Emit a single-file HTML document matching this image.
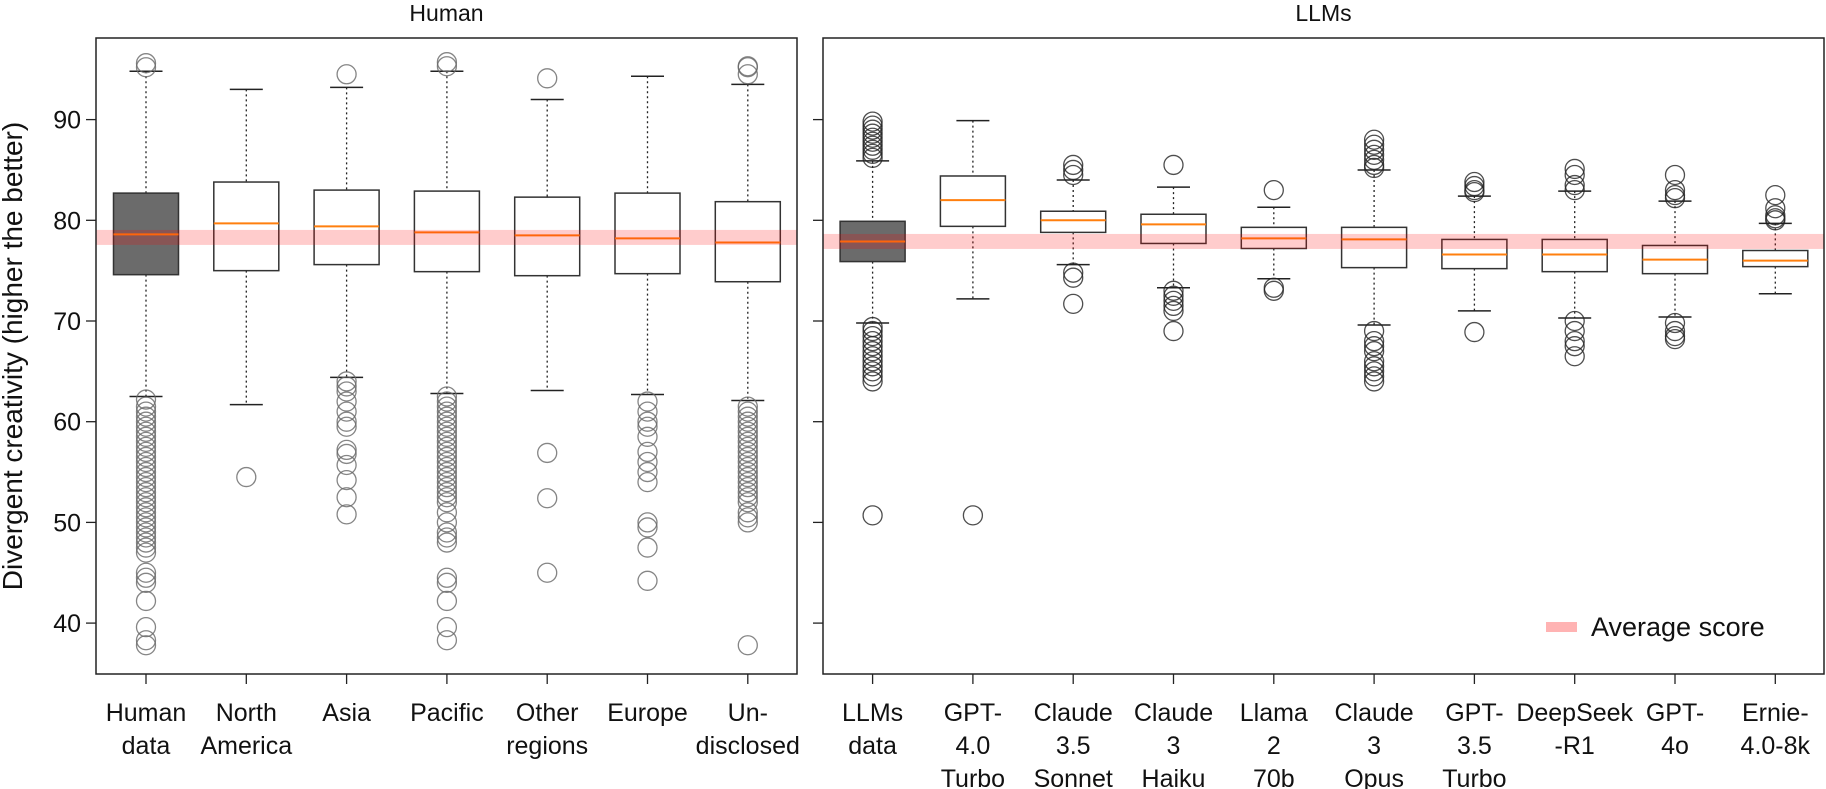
<!DOCTYPE html>
<html><head><meta charset="utf-8">
<style>
html,body{margin:0;padding:0;background:#fff;}
svg{display:block;font-family:"Liberation Sans",sans-serif;}
</style></head>
<body>
<svg id="chart" width="1826" height="789" viewBox="0 0 1826 789"></svg>
<script>
// ---- data ----
const humanCats = [["Human","data"],["North","America"],["Asia"],["Pacific"],["Other","regions"],["Europe"],["Un-","disclosed"]];
const humanLow  = [62.5,61.7,64.4,62.8,63.1,62.7,62.1];
const humanQ1   = [74.6,75.0,75.6,74.9,74.5,74.7,73.9];
const humanMed  = [78.6,79.7,79.4,78.8,78.5,78.2,77.8];
const humanQ3   = [82.7,83.8,83.0,82.9,82.3,82.7,81.85];
const humanHigh = [94.8,93.0,93.2,94.8,92.0,94.3,93.5];
const humanOut = [
 [95.2,95.6,62.2,61.5,61,60.5,60,59.5,59,58.5,58,57.5,57,56.5,56,55.5,55,54.5,54,53.5,53,52.5,52,51.5,51,50.5,50,49.5,49,48.5,48,47.5,47,45,44.5,44,42.2,39.6,38.3,37.8],
 [54.5],
 [94.5,64,63.5,63,62,61,60,59.5,57.2,56.8,55.7,54.2,52.5,50.8],
 [95.3,95.7,62.5,62,61.5,61,60.5,60,59.5,59,58.5,58,57.5,57,56.5,56,55.5,55,54.5,54,53.5,53,52.5,52,51,50,49,48.5,48,44.5,44,42.2,39.6,38.3],
 [94.1,56.9,52.4,45],
 [62,61,60,59.5,58.5,57,56,55,54,50,49.5,47.5,44.2],
 [94.5,95.2,95.3,61.5,61,60.5,60,59.5,59,58.5,58,57.5,57,56.5,56,55.5,55,54.5,54,53.5,53,52.5,52,51,50.5,50,37.8]
];
const llmCats = [["LLMs","data"],["GPT-","4.0","Turbo"],["Claude","3.5","Sonnet"],["Claude","3","Haiku"],["Llama","2","70b"],["Claude","3","Opus"],["GPT-","3.5","Turbo"],["DeepSeek","-R1"],["GPT-","4o"],["Ernie-","4.0-8k"]];
const llmLow  = [69.8,72.2,75.6,73.3,74.2,69.6,71.0,70.3,70.4,72.7];
const llmQ1   = [75.9,79.4,78.8,77.7,77.2,75.3,75.2,74.9,74.7,75.4];
const llmMed  = [77.9,82.0,80.0,79.6,78.2,78.1,76.6,76.6,76.1,76.0];
const llmQ3   = [79.9,84.4,80.9,80.6,79.3,79.3,78.1,78.1,77.5,77.0];
const llmHigh = [85.9,89.9,84.0,83.3,81.3,85.0,82.4,82.9,81.9,79.7];
const llmOut = [
 [86.2,86.6,87,87.4,87.8,88.2,88.6,89,89.4,89.8,69.4,69,68.5,68,67.5,67,66.5,66,65.5,65,64.5,64,50.7],
 [50.7],
 [85.5,85,84.5,74.8,74.3,71.7],
 [85.5,73,72.5,72,71.5,71,69],
 [83,73.3,73],
 [88,87.5,87,86.5,86,85.5,85.2,69,68,67.5,67,66,65.5,65,64.5,64],
 [83.8,83.4,83,82.8,68.9],
 [85.1,84.5,83.5,83,70,69,68,67.5,66.5],
 [84.5,83,82.5,82.2,69.8,69,68.5,68.2],
 [82.5,81.2,80.5,80.2,80]
];
const yTicks = [40,50,60,70,80,90];
const humanAvg = 78.3;
const llmAvg = 77.9;

// ---- layout ----
const NS="http://www.w3.org/2000/svg";
const svgEl=document.getElementById('chart');
function mk(tag,attrs,parent){const e=document.createElementNS(NS,tag);for(const k in attrs)e.setAttribute(k,attrs[k]);(parent||svgEl).appendChild(e);return e;}
const yScale=v=>220.3-(v-80)*10.07;
const panels=[
 {name:'human',title:'Human',x0:96,x1:797,first:146,cats:humanCats,low:humanLow,q1:humanQ1,med:humanMed,q3:humanQ3,high:humanHigh,out:humanOut,avg:humanAvg,labels:true,outCol:'#666'},
 {name:'llm',title:'LLMs',x0:823,x1:1824,first:872.6,cats:llmCats,low:llmLow,q1:llmQ1,med:llmMed,q3:llmQ3,high:llmHigh,out:llmOut,avg:llmAvg,labels:false,outCol:'#222'}
];
const plotTop=38,plotBottom=674,step=100.3,bw=65,cap=33;
panels.forEach(p=>{
 const g=mk('g',{});
 
 
 const xs=i=>p.first+i*step;
 const t=mk('text',{x:(p.x0+p.x1)/2,y:21,'text-anchor':'middle','font-size':23,fill:'#111'},g);
 t.textContent=p.title;
 
 
 yTicks.forEach(v=>{
  const tk=mk('line',{x1:p.x0-10,x2:p.x0,y1:yScale(v),y2:yScale(v),stroke:'#222','stroke-width':1.3},g);
  
  
  if(p.labels){
   const tl=mk('text',{x:p.x0-15,y:yScale(v)+9,'text-anchor':'end','font-size':25,fill:'#111'},g);
   tl.textContent=v;
   
   
  }
 });
 p.cats.forEach((c,i)=>{
  const x=xs(i);
  const bg=mk('g',{},g);
  
  
  mk('line',{x1:x,x2:x,y1:yScale(p.high[i]),y2:yScale(p.q3[i]),stroke:'#222','stroke-width':1.3,'stroke-dasharray':'2,3'},bg);
  mk('line',{x1:x,x2:x,y1:yScale(p.q1[i]),y2:yScale(p.low[i]),stroke:'#222','stroke-width':1.3,'stroke-dasharray':'2,3'},bg);
  mk('line',{x1:x-cap/2,x2:x+cap/2,y1:yScale(p.high[i]),y2:yScale(p.high[i]),stroke:'#222','stroke-width':1.5},bg);
  mk('line',{x1:x-cap/2,x2:x+cap/2,y1:yScale(p.low[i]),y2:yScale(p.low[i]),stroke:'#222','stroke-width':1.5},bg);
  mk('rect',{x:x-bw/2,y:yScale(p.q3[i]),width:bw,height:yScale(p.q1[i])-yScale(p.q3[i]),fill:i===0?'#6b6b6b':'#fff',stroke:'#333','stroke-width':1.5},bg);
  mk('line',{x1:x-bw/2,x2:x+bw/2,y1:yScale(p.med[i]),y2:yScale(p.med[i]),stroke:'#ff7f0e','stroke-width':2},bg);
  p.out[i].forEach(v=>{
   const o=mk('circle',{cx:x,cy:yScale(v),r:9.5,fill:'none',stroke:p.outCol,'stroke-width':1.3,'stroke-opacity':0.8},bg);
   
   
  });
  mk('line',{x1:x,x2:x,y1:plotBottom,y2:plotBottom+10,stroke:'#222','stroke-width':1.3},g);
  c.forEach((ln,j)=>{
   const tx=mk('text',{x:x,y:721+j*33,'text-anchor':'middle','font-size':25,fill:'#111'},g);
   tx.textContent=ln;
   
   
  });
 });
 const band=mk('rect',{x:p.x0,y:yScale(p.avg)-7.5,width:p.x1-p.x0,height:15,fill:'rgba(255,0,0,0.2)'},g);
 
 
 const fr=mk('rect',{x:p.x0,y:plotTop,width:p.x1-p.x0,height:plotBottom-plotTop,fill:'none',stroke:'#222','stroke-width':1.5},g);
 
 
});
const yl=mk('text',{x:0,y:0,transform:'translate(22,356) rotate(-90)','text-anchor':'middle','font-size':28,fill:'#111'});
yl.textContent='Divergent creativity (higher the better)';


const lg=mk('g',{});


mk('rect',{x:1546,y:622,width:31,height:10,fill:'#ffb3b3'},lg);
const lt=mk('text',{x:1591,y:636,'font-size':27,fill:'#111'},lg);
lt.textContent='Average score';
</script>
</body></html>
